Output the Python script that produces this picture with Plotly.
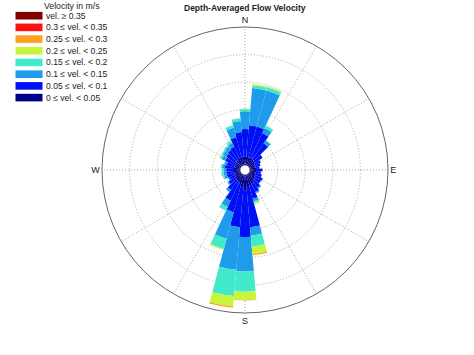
import plotly.graph_objects as go

# ---------------- data ----------------
directions = [0, 10, 20, 30, 40, 50, 60, 70, 80, 90, 100, 110, 120, 130, 140, 150, 160, 170,
              180, 190, 200, 210, 220, 230, 240, 250, 260, 270, 280, 290, 300, 310, 320, 330, 340, 350]

# frequency contribution of each velocity class per direction (stacked)
v_000_005 = [0.30, 0.30, 0.30, 0.30, 0.28, 0.25, 0.22, 0.22, 0.22, 0.22, 0.22, 0.22, 0.25, 0.28, 0.30, 0.35, 0.40, 0.45,
             0.55, 0.45, 0.35, 0.30, 0.28, 0.25, 0.22, 0.22, 0.22, 0.22, 0.22, 0.22, 0.22, 0.22, 0.25, 0.28, 0.28, 0.30]
v_005_010 = [1.00, 1.15, 1.15, 1.00, 0.72, 0.35, 0.23, 0.18, 0.13, 0.23, 0.18, 0.23, 0.27, 0.24, 0.30, 0.35, 0.50, 1.45,
             1.70, 1.45, 1.05, 0.75, 0.42, 0.30, 0.23, 0.28, 0.28, 0.28, 0.33, 0.28, 0.38, 0.43, 0.45, 0.47, 0.77, 0.90]
v_010_015 = [0.65, 1.35, 1.35, 0.20, 0.12, 0.00, 0.00, 0.00, 0.00, 0.00, 0.00, 0.00, 0.03, 0.00, 0.05, 0.05, 0.10, 0.30,
             1.25, 1.55, 1.00, 0.25, 0.10, 0.05, 0.05, 0.10, 0.10, 0.10, 0.10, 0.10, 0.15, 0.15, 0.15, 0.15, 0.35, 0.40]
v_015_020 = [0.08, 0.10, 0.12, 0.10, 0.03, 0.00, 0.00, 0.00, 0.00, 0.00, 0.00, 0.00, 0.00, 0.00, 0.00, 0.00, 0.06, 0.40,
             0.73, 0.95, 0.38, 0.15, 0.00, 0.00, 0.00, 0.05, 0.08, 0.05, 0.05, 0.00, 0.07, 0.05, 0.05, 0.08, 0.10, 0.10]
v_020_025 = [0.02, 0.05, 0.04, 0.00, 0.00, 0.00, 0.00, 0.00, 0.00, 0.00, 0.00, 0.00, 0.00, 0.00, 0.00, 0.00, 0.04, 0.28,
             0.30, 0.38, 0.04, 0.00, 0.00, 0.00, 0.00, 0.00, 0.00, 0.00, 0.00, 0.00, 0.03, 0.00, 0.00, 0.00, 0.00, 0.00]
v_025_030 = [0.00, 0.00, 0.00, 0.00, 0.00, 0.00, 0.00, 0.00, 0.00, 0.00, 0.00, 0.00, 0.00, 0.00, 0.00, 0.00, 0.00, 0.04,
             0.02, 0.05, 0.00, 0.00, 0.00, 0.00, 0.00, 0.00, 0.00, 0.00, 0.00, 0.00, 0.00, 0.00, 0.00, 0.00, 0.00, 0.00]
v_030_035 = [0.0] * 36
v_035_up = [0.0] * 36

class_values = [v_000_005, v_005_010, v_010_015, v_015_020, v_020_025, v_025_030, v_030_035, v_035_up]
class_labels = ["0 \u2264 vel. < 0.05", "0.05 \u2264 vel. < 0.1", "0.1 \u2264 vel. < 0.15",
                "0.15 \u2264 vel. < 0.2", "0.2 \u2264 vel. < 0.25", "0.25 \u2264 vel. < 0.3",
                "0.3 \u2264 vel. < 0.35", "vel. \u2265 0.35"]
class_colors = ["#000088", "#0010F5", "#1E9BEA", "#40EACB", "#C8F53C", "#FFA020", "#FF1010", "#800000"]

compass_vals = [0, 30, 60, 90, 120, 150, 180, 210, 240, 270, 300, 330]
compass_text = ["N", "", "", "E", "", "", "S", "", "", "W", "", ""]

title_text = "Depth-Averaged Flow Velocity"
legend_title = "Velocity in m/s"

# ---------------- figure ----------------
fig = go.Figure()
for vals, lab, col in zip(class_values, class_labels, class_colors):
    fig.add_trace(go.Barpolar(
        r=vals, theta=directions, width=[10] * len(directions), name=lab,
        marker=dict(color=col, line=dict(width=0)), showlegend=False,
    ))

W, H = 474, 355
cx, cy, R = 245, 170, 143

fig.update_layout(
    width=W, height=H,
    margin=dict(l=0, r=0, t=0, b=0),
    paper_bgcolor="white",
    plot_bgcolor="white",
    font=dict(family="Liberation Sans, Arial, sans-serif", size=9, color="#222"),
    barmode="stack",
    polar=dict(
        domain=dict(x=[(cx - R) / W, (cx + R) / W], y=[1 - (cy + R) / H, 1 - (cy - R) / H]),
        bgcolor="white",
        hole=0.035,
        radialaxis=dict(range=[0, 5], tickvals=[1, 2, 3, 4], showticklabels=False, ticks="",
                        showline=False, gridcolor="#a8a8a8", griddash="1px,2px", gridwidth=1,
                        layer="below traces"),
        angularaxis=dict(rotation=90, direction="clockwise", tickvals=compass_vals,
                         ticktext=compass_text, ticks="", showline=True, linecolor="#666666",
                         linewidth=1, gridcolor="#a8a8a8", griddash="1px,2px", gridwidth=1,
                         tickfont=dict(size=9, color="#222"), layer="below traces"),
    ),
)

# title
fig.add_annotation(text="<b>" + title_text + "</b>", xref="paper", yref="paper",
                   x=cx / W, y=1 - 8 / H, xanchor="center", yanchor="middle",
                   showarrow=False, font=dict(size=8.5, color="#222"))

# manual legend (top-left)
fig.add_annotation(text=legend_title, xref="paper", yref="paper", x=72 / W, y=1 - 6 / H,
                   xanchor="center", yanchor="middle", showarrow=False,
                   font=dict(size=8.7, color="#222"))
row0, dy = 15.7, 11.7
for i, (lab, col) in enumerate(zip(class_labels[::-1], class_colors[::-1])):
    yc = row0 + i * dy
    fig.add_shape(type="rect", xref="paper", yref="paper",
                  x0=15.5 / W, x1=42.5 / W, y0=1 - (yc + 3.8) / H, y1=1 - (yc - 3.8) / H,
                  fillcolor=col, line=dict(width=0))
    fig.add_annotation(text=lab, xref="paper", yref="paper", x=44 / W, y=1 - yc / H,
                       xanchor="left", yanchor="middle", showarrow=False,
                       font=dict(size=8.6, color="#222"))

fig.write_html("out.html", config={"displayModeBar": False},
               post_script="document.body.style.margin='0px';")
